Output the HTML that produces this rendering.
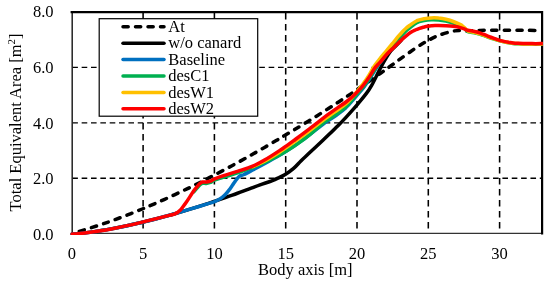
<!DOCTYPE html>
<html><head><meta charset="utf-8"><title>Total Equivalent Area</title>
<style>
html,body{margin:0;padding:0;background:#fff;}
svg{display:block;font-family:"Liberation Serif",serif;font-size:16.5px;fill:#000;}
</style></head><body>
<svg width="550" height="283" viewBox="0 0 550 283">
<rect width="550" height="283" fill="#fff"/>
<g stroke="#000" stroke-width="1.55" stroke-dasharray="6.4 4.6" fill="none"><line x1="143.1" y1="13.1" x2="143.1" y2="233.5"/><line x1="214.4" y1="13.1" x2="214.4" y2="233.5"/><line x1="285.7" y1="13.1" x2="285.7" y2="233.5"/><line x1="357.0" y1="13.1" x2="357.0" y2="233.5"/><line x1="428.3" y1="13.1" x2="428.3" y2="233.5"/><line x1="499.6" y1="13.1" x2="499.6" y2="233.5"/></g>
<g stroke="#000" stroke-width="1.35" stroke-dasharray="5.6 3.75" fill="none"><line x1="72.3" y1="178.2" x2="542" y2="178.2"/><line x1="72.3" y1="122.8" x2="542" y2="122.8"/><line x1="72.3" y1="67.4" x2="542" y2="67.4"/></g>
<path d="M72.2 12 V233.5" fill="none" stroke="#222" stroke-width="1.5"/><path d="M71.5 233.4 H542" fill="none" stroke="#333" stroke-width="1.3"/>
<path d="M70.6 12.2 H542.1 V234.4" fill="none" stroke="#000" stroke-width="2.2"/>
<clipPath id="pc"><rect x="70.5" y="11" width="472.4" height="223.9"/></clipPath>
<g fill="none" stroke-linejoin="round" stroke-linecap="round" stroke-width="3.5" clip-path="url(#pc)">
<path d="M72.5 233.3 C73.5 233.0 74.3 232.9 78.7 231.5 C83.1 230.2 93.3 227.1 99.1 225.2 C104.9 223.3 108.8 221.9 113.6 220.1 C118.4 218.4 123.4 216.5 128.2 214.7 C133.0 212.8 137.9 210.8 142.3 209.0 C146.7 207.2 150.0 205.8 154.5 203.8 C159.0 201.9 164.2 199.5 169.1 197.3 C173.9 195.1 179.5 192.5 183.6 190.5 C187.7 188.6 190.5 187.2 193.8 185.5 C197.1 183.9 200.2 182.3 203.6 180.6 C207.0 178.9 209.3 177.8 214.0 175.3 C218.7 172.8 226.0 168.9 232.0 165.7 C238.0 162.4 244.6 158.7 250.0 155.7 C255.4 152.7 260.1 149.9 264.5 147.4 C268.9 144.9 273.1 142.4 276.2 140.6 C279.3 138.8 279.8 138.4 282.9 136.6 C285.9 134.8 290.1 132.3 294.5 129.7 C298.9 127.0 304.2 123.7 309.1 120.7 C314.0 117.7 318.8 114.7 323.6 111.6 C328.5 108.5 333.7 105.1 338.2 102.2 C342.7 99.3 345.9 97.1 350.4 94.1 C354.9 91.1 359.9 87.7 365.0 84.2 C370.1 80.7 376.6 76.1 380.9 73.0 C385.2 70.0 387.6 68.2 391.0 65.8 C394.4 63.3 397.2 61.1 401.4 58.1 C405.5 55.2 411.5 50.9 415.9 47.9 C420.3 45.0 424.0 42.7 427.8 40.7 C431.6 38.6 434.4 37.0 438.6 35.4 C442.8 33.8 449.3 32.0 453.2 31.1 C457.1 30.3 459.1 30.4 461.9 30.5 C464.7 30.5 467.0 31.3 470.0 31.3 C473.0 31.3 468.0 30.6 480.0 30.4 C492.0 30.2 531.7 30.4 542.0 30.4" stroke="#000" stroke-dasharray="5.2 7.366" stroke-dashoffset="5.4"/>
<path d="M71.5 234.4 C72.6 234.3 75.8 234.0 78.0 233.7 C80.2 233.5 81.0 233.4 84.5 232.9 C88.0 232.5 94.2 231.6 99.1 230.9 C103.9 230.1 108.8 229.3 113.6 228.4 C118.4 227.5 123.4 226.5 128.2 225.5 C133.0 224.5 137.9 223.3 142.3 222.3 C146.7 221.3 150.0 220.5 154.5 219.3 C159.0 218.1 165.7 216.3 169.1 215.4 C172.5 214.5 172.5 214.4 174.9 213.8 C177.3 213.1 179.7 212.4 183.6 211.2 C187.5 210.0 194.3 207.9 198.2 206.7 C202.1 205.5 204.4 204.7 207.0 203.8 C209.6 203.0 211.3 202.4 214.0 201.5 C216.7 200.6 219.2 199.7 223.0 198.4 C226.8 197.1 232.3 195.1 236.8 193.5 C241.3 191.9 246.1 190.1 250.0 188.7 C253.9 187.2 256.4 186.2 260.0 184.9 C263.6 183.6 268.6 182.0 271.8 180.8 C275.0 179.6 276.8 178.7 279.1 177.6 C281.4 176.5 283.2 175.7 285.6 174.2 C288.0 172.7 291.1 170.6 293.6 168.4 C296.2 166.2 298.5 163.3 300.9 160.9 C303.3 158.5 305.8 156.4 308.2 154.1 C310.6 151.8 313.0 149.6 315.5 147.3 C318.0 145.0 319.4 143.7 323.2 140.1 C327.0 136.4 334.5 129.2 338.2 125.5 C341.9 121.8 343.1 120.5 345.5 117.9 C347.9 115.3 350.5 112.4 352.7 109.9 C354.9 107.5 356.2 105.9 358.5 103.1 C360.8 100.4 364.2 96.3 366.4 93.4 C368.6 90.5 369.8 88.6 371.5 85.6 C373.2 82.6 375.2 78.5 376.8 75.3 C378.4 72.1 380.0 68.9 381.4 66.3 C382.8 63.7 383.6 62.1 385.0 59.8 C386.4 57.5 387.9 54.7 389.5 52.6 C391.1 50.5 392.6 49.1 394.6 47.0 C396.6 44.9 400.3 41.2 401.4 40.0" stroke="#000"/>
<path d="M71.5 234.3 C72.6 234.2 75.8 233.9 78.0 233.7 C80.2 233.5 81.0 233.4 84.5 233.0 C88.0 232.5 94.2 231.7 99.1 231.0 C103.9 230.3 108.8 229.4 113.6 228.5 C118.4 227.6 123.4 226.6 128.2 225.5 C133.0 224.5 137.9 223.3 142.3 222.3 C146.7 221.2 150.0 220.4 154.5 219.2 C159.0 218.0 165.7 216.2 169.1 215.2 C172.5 214.3 172.5 214.3 174.9 213.6 C177.3 212.9 179.7 212.2 183.6 211.1 C187.5 209.9 194.3 207.9 198.2 206.7 C202.1 205.5 204.4 204.8 207.0 204.0 C209.6 203.1 211.8 202.6 214.0 201.8 C216.2 200.9 218.4 199.9 220.2 198.8 C222.0 197.7 223.3 196.6 224.8 195.1 C226.3 193.6 228.1 191.3 229.4 189.6 C230.7 187.9 231.6 186.4 232.6 185.0 C233.6 183.6 234.1 182.6 235.3 181.1 C236.5 179.6 238.2 177.3 239.6 176.2 C241.0 175.1 241.8 175.6 244.0 174.5 C246.2 173.5 249.3 171.8 252.7 170.0 C256.1 168.3 260.1 166.2 264.5 163.8 C268.9 161.4 275.6 157.7 279.1 155.6 C282.6 153.6 283.2 153.2 285.6 151.6 C288.0 150.1 290.8 148.3 293.6 146.4 C296.4 144.5 299.8 142.1 302.4 140.2 C305.0 138.3 305.6 137.9 309.1 135.2 C312.6 132.4 320.0 126.6 323.6 123.9 C327.2 121.2 328.6 120.6 331.0 118.9 C333.4 117.2 335.7 115.8 338.2 113.9 C340.7 112.0 343.8 109.6 346.0 107.6 C348.2 105.5 349.8 103.6 351.5 101.6 C353.2 99.6 354.5 98.1 356.5 95.8 C358.5 93.5 361.4 90.3 363.5 87.6 C365.6 84.9 367.5 82.2 369.3 79.4 C371.1 76.6 372.7 73.8 374.5 71.0 C376.3 68.2 377.9 65.6 380.0 62.8 C382.1 60.0 385.7 55.5 386.8 54.0" stroke="#0070c0"/>
<path d="M193.8 191.8 C194.4 191.1 196.5 188.6 197.5 187.5 C198.5 186.4 198.8 185.8 199.6 185.1 C200.4 184.4 201.4 183.7 202.5 183.4 C203.6 183.1 204.9 183.6 206.2 183.4 C207.5 183.2 209.2 182.9 210.5 182.4 C211.8 181.9 212.0 181.1 214.2 180.2 C216.4 179.4 219.6 178.5 223.6 177.2 C227.6 176.0 233.8 174.0 238.2 172.5 C242.6 171.1 245.6 170.1 250.0 168.4 C254.4 166.7 259.6 164.7 264.5 162.5 C269.4 160.4 275.6 157.2 279.1 155.3 C282.6 153.5 283.2 153.1 285.6 151.6 C288.0 150.1 290.8 148.4 293.6 146.5 C296.4 144.6 299.8 142.2 302.4 140.3 C305.0 138.4 305.6 138.1 309.1 135.1 C312.6 132.2 320.0 125.5 323.6 122.6 C327.2 119.7 328.6 119.4 331.0 117.8 C333.4 116.2 335.7 114.7 338.2 112.8 C340.7 110.9 343.8 108.6 346.0 106.6 C348.2 104.6 349.8 102.6 351.5 100.6 C353.2 98.6 354.5 97.0 356.5 94.6 C358.5 92.2 361.4 89.1 363.5 86.4 C365.6 83.7 367.5 80.9 369.3 78.2 C371.1 75.5 372.7 72.7 374.5 70.0 C376.3 67.3 377.9 65.1 380.0 62.3 C382.1 59.5 385.1 55.3 386.8 53.0 C388.6 50.7 389.3 50.1 390.5 48.6 C391.7 47.1 392.9 45.8 394.1 44.3 C395.4 42.8 396.7 41.0 398.0 39.5 C399.3 38.0 400.7 36.4 402.0 35.0 C403.3 33.6 404.4 32.4 405.7 31.2 C406.9 30.0 407.6 29.4 409.5 28.0 C411.4 26.6 414.4 23.8 416.8 22.6 C419.2 21.3 421.7 21.0 424.1 20.5 C426.5 20.0 429.0 19.8 431.4 19.7 C433.8 19.6 436.2 19.7 438.6 19.9 C441.0 20.2 443.5 20.6 445.9 21.1 C448.3 21.7 450.8 22.4 453.2 23.2 C455.6 23.9 458.8 25.1 460.5 25.9 C462.2 26.6 462.5 27.1 463.5 27.8 C464.5 28.5 465.5 29.5 466.3 30.2 C467.1 30.9 467.5 31.5 468.5 31.9 C469.5 32.3 471.1 32.3 472.3 32.5 C473.6 32.7 474.8 32.9 476.0 33.2 C477.2 33.5 478.5 33.8 479.7 34.2 C480.9 34.6 482.2 35.0 483.4 35.4 C484.6 35.8 485.7 36.3 486.8 36.7 C487.9 37.1 488.8 37.5 490.0 37.9 C491.2 38.3 492.5 38.7 494.1 39.2 C495.7 39.7 498.0 40.5 499.6 40.9 C501.2 41.3 502.5 41.6 504.0 41.9 C505.5 42.2 507.1 42.5 508.6 42.8 C510.1 43.0 511.4 43.2 513.0 43.4 C514.6 43.6 516.3 43.7 518.0 43.8 C519.7 43.9 520.9 44.0 523.2 44.0 C525.5 44.1 528.8 44.1 532.0 44.1 C535.2 44.2 540.8 44.1 542.5 44.1" stroke="#00b050"/>
<path d="M252.7 166.7 C254.7 165.8 260.1 163.4 264.5 161.1 C268.9 158.7 275.6 154.6 279.1 152.4 C282.6 150.2 283.2 149.7 285.6 148.1 C288.0 146.5 289.4 145.6 293.3 142.7 C297.2 139.8 304.1 134.8 309.1 131.0 C314.2 127.2 320.0 122.6 323.6 119.8 C327.2 117.1 328.6 116.3 331.0 114.6 C333.4 112.9 335.7 111.4 338.2 109.6 C340.7 107.8 343.8 105.7 346.0 103.8 C348.2 101.9 349.8 100.0 351.5 98.0 C353.2 96.0 354.5 94.5 356.5 92.1 C358.5 89.7 361.4 86.3 363.5 83.4 C365.6 80.5 367.5 77.6 369.3 74.7 C371.1 71.8 372.7 68.5 374.5 65.8 C376.3 63.1 377.9 61.1 380.0 58.5 C382.1 55.9 385.1 52.4 386.8 50.3 C388.6 48.2 389.3 47.3 390.5 45.8 C391.7 44.3 392.9 43.0 394.1 41.5 C395.4 40.0 396.7 38.2 398.0 36.7 C399.3 35.2 400.7 33.6 402.0 32.2 C403.3 30.8 404.4 29.6 405.7 28.5 C406.9 27.4 407.6 26.8 409.5 25.5 C411.4 24.2 414.4 21.9 416.8 20.7 C419.2 19.6 421.7 19.2 424.1 18.7 C426.5 18.3 429.0 18.0 431.4 17.9 C433.8 17.8 436.2 17.8 438.6 18.1 C441.0 18.3 443.5 18.7 445.9 19.3 C448.3 19.9 450.8 20.6 453.2 21.5 C455.6 22.4 458.8 23.8 460.5 24.6 C462.2 25.5 462.5 26.0 463.5 26.8 C464.5 27.6 465.5 28.8 466.3 29.6 C467.1 30.4 467.5 31.0 468.5 31.4 C469.5 31.8 471.1 31.8 472.3 32.0 C473.6 32.2 474.8 32.5 476.0 32.8 C477.2 33.1 478.5 33.4 479.7 33.8 C480.9 34.2 482.2 34.6 483.4 35.0 C484.6 35.4 485.7 35.9 486.8 36.3 C487.9 36.7 488.8 37.1 490.0 37.5 C491.2 37.9 492.5 38.4 494.1 38.9 C495.7 39.4 498.0 40.2 499.6 40.7 C501.2 41.2 502.5 41.4 504.0 41.7 C505.5 42.0 507.1 42.4 508.6 42.6 C510.1 42.9 511.4 43.0 513.0 43.2 C514.6 43.4 516.3 43.5 518.0 43.6 C519.7 43.7 520.9 43.8 523.2 43.9 C525.5 43.9 528.8 43.9 532.0 44.0 C535.2 44.0 540.8 44.0 542.5 44.0" stroke="#ffc000"/>
<path d="M71.5 234.2 C72.6 234.1 75.8 233.9 78.0 233.7 C80.2 233.5 81.0 233.5 84.5 233.1 C88.0 232.7 94.2 231.9 99.1 231.1 C103.9 230.4 108.8 229.5 113.6 228.5 C118.4 227.6 123.4 226.5 128.2 225.4 C133.0 224.4 137.9 223.2 142.3 222.1 C146.7 221.0 150.0 220.2 154.5 219.1 C159.0 217.9 165.7 216.2 169.1 215.4 C172.5 214.5 173.0 214.8 174.9 213.9 C176.8 213.0 179.0 211.4 180.7 209.7 C182.4 208.0 183.6 205.9 185.1 203.9 C186.6 201.9 188.1 199.6 189.5 197.4 C190.9 195.2 192.5 192.7 193.8 190.8 C195.1 188.9 196.5 187.4 197.5 186.2 C198.5 185.0 198.8 184.5 199.6 183.8 C200.4 183.1 201.4 182.3 202.5 182.0 C203.6 181.7 204.9 182.2 206.2 182.0 C207.5 181.8 209.2 181.6 210.5 181.1 C211.8 180.6 212.0 180.1 214.2 179.2 C216.4 178.3 219.6 176.9 223.6 175.6 C227.6 174.3 233.3 172.8 238.2 171.2 C243.0 169.6 248.3 168.0 252.7 166.1 C257.1 164.3 260.1 162.7 264.5 160.1 C268.9 157.6 275.6 153.2 279.1 150.9 C282.6 148.6 283.2 148.1 285.6 146.4 C288.0 144.7 289.4 143.8 293.3 140.9 C297.2 138.0 304.1 132.9 309.1 129.1 C314.2 125.2 320.0 120.6 323.6 117.8 C327.2 115.0 328.6 114.1 331.0 112.4 C333.4 110.7 335.7 109.1 338.2 107.4 C340.7 105.7 343.8 103.7 346.0 102.0 C348.2 100.3 349.8 99.0 351.5 97.5 C353.2 96.0 354.5 94.9 356.5 92.8 C358.5 90.7 361.4 87.7 363.5 85.0 C365.6 82.3 367.5 79.6 369.3 76.9 C371.1 74.2 373.1 70.6 374.5 68.6 C375.9 66.6 376.4 66.3 377.5 65.0 C378.6 63.7 379.6 62.8 381.2 61.0 C382.8 59.2 385.2 55.9 386.8 54.2 C388.4 52.5 389.3 51.8 390.5 50.6 C391.7 49.4 392.9 48.4 394.1 47.2 C395.3 46.0 396.6 44.7 397.8 43.5 C399.0 42.3 400.2 41.1 401.4 40.0 C402.6 38.9 403.8 37.8 405.0 36.8 C406.2 35.8 407.4 34.8 408.6 33.9 C409.8 33.0 411.0 32.3 412.2 31.6 C413.4 30.9 414.7 30.4 415.9 29.8 C417.1 29.2 418.3 28.7 419.5 28.3 C420.7 27.9 421.9 27.5 423.2 27.2 C424.5 26.9 425.9 26.5 427.3 26.3 C428.7 26.1 430.1 25.9 431.4 25.8 C432.7 25.7 433.8 25.6 435.0 25.6 C436.2 25.6 436.8 25.6 438.6 25.6 C440.4 25.6 443.5 25.6 445.9 25.7 C448.3 25.8 450.8 25.9 453.2 26.2 C455.6 26.5 458.6 27.1 460.5 27.6 C462.4 28.1 463.6 28.7 464.8 29.1 C466.0 29.6 466.6 30.0 467.8 30.3 C469.1 30.6 470.9 30.8 472.3 31.0 C473.7 31.2 474.8 31.5 476.0 31.8 C477.2 32.1 478.5 32.5 479.7 32.9 C480.9 33.3 482.2 33.8 483.4 34.2 C484.6 34.7 485.7 35.2 486.8 35.6 C487.9 36.0 488.8 36.4 490.0 36.9 C491.2 37.4 492.5 37.8 494.1 38.4 C495.7 39.0 498.0 39.8 499.6 40.3 C501.2 40.8 502.5 41.1 504.0 41.4 C505.5 41.7 507.1 42.0 508.6 42.3 C510.1 42.5 511.4 42.7 513.0 42.9 C514.6 43.1 516.3 43.2 518.0 43.3 C519.7 43.4 520.9 43.5 523.2 43.5 C525.5 43.6 528.8 43.6 532.0 43.6 C535.2 43.7 540.8 43.6 542.5 43.6" stroke="#ff0000"/>
</g>
<rect x="99.2" y="18.7" width="158.5" height="97.5" fill="#fff" stroke="#000" stroke-width="1.2"/>
<line x1="123" y1="26.8" x2="164" y2="26.8" stroke="#000" stroke-width="3.5" stroke-dasharray="5.2 7.3" stroke-linecap="round"/><text x="168.3" y="32.0">At</text><line x1="123" y1="43.2" x2="164" y2="43.2" stroke="#000" stroke-width="3.5" stroke-linecap="round"/><text x="168.3" y="48.4">w/o canard</text><line x1="123" y1="59.6" x2="164" y2="59.6" stroke="#0070c0" stroke-width="3.5" stroke-linecap="round"/><text x="168.3" y="64.8">Baseline</text><line x1="123" y1="76.0" x2="164" y2="76.0" stroke="#00b050" stroke-width="3.5" stroke-linecap="round"/><text x="168.3" y="81.2">desC1</text><line x1="123" y1="92.4" x2="164" y2="92.4" stroke="#ffc000" stroke-width="3.5" stroke-linecap="round"/><text x="168.3" y="97.6">desW1</text><line x1="123" y1="108.8" x2="164" y2="108.8" stroke="#ff0000" stroke-width="3.5" stroke-linecap="round"/><text x="168.3" y="114.0">desW2</text>
<text x="71.8" y="258.6" text-anchor="middle">0</text><text x="143.1" y="258.6" text-anchor="middle">5</text><text x="214.4" y="258.6" text-anchor="middle">10</text><text x="285.7" y="258.6" text-anchor="middle">15</text><text x="357.0" y="258.6" text-anchor="middle">20</text><text x="428.3" y="258.6" text-anchor="middle">25</text><text x="499.6" y="258.6" text-anchor="middle">30</text>
<text x="53.5" y="239.8" text-anchor="end">0.0</text><text x="53.5" y="184.1" text-anchor="end">2.0</text><text x="53.5" y="128.5" text-anchor="end">4.0</text><text x="53.5" y="72.9" text-anchor="end">6.0</text><text x="53.5" y="17.2" text-anchor="end">8.0</text>
<text x="305.3" y="275.4" text-anchor="middle">Body axis [m]</text>
<text transform="translate(20.8 122.5) rotate(-90)" text-anchor="middle">Total Equivalent Area [m<tspan font-size="10.8" dy="-5.7">2</tspan><tspan dy="5.7">]</tspan></text>
</svg>
</body></html>
